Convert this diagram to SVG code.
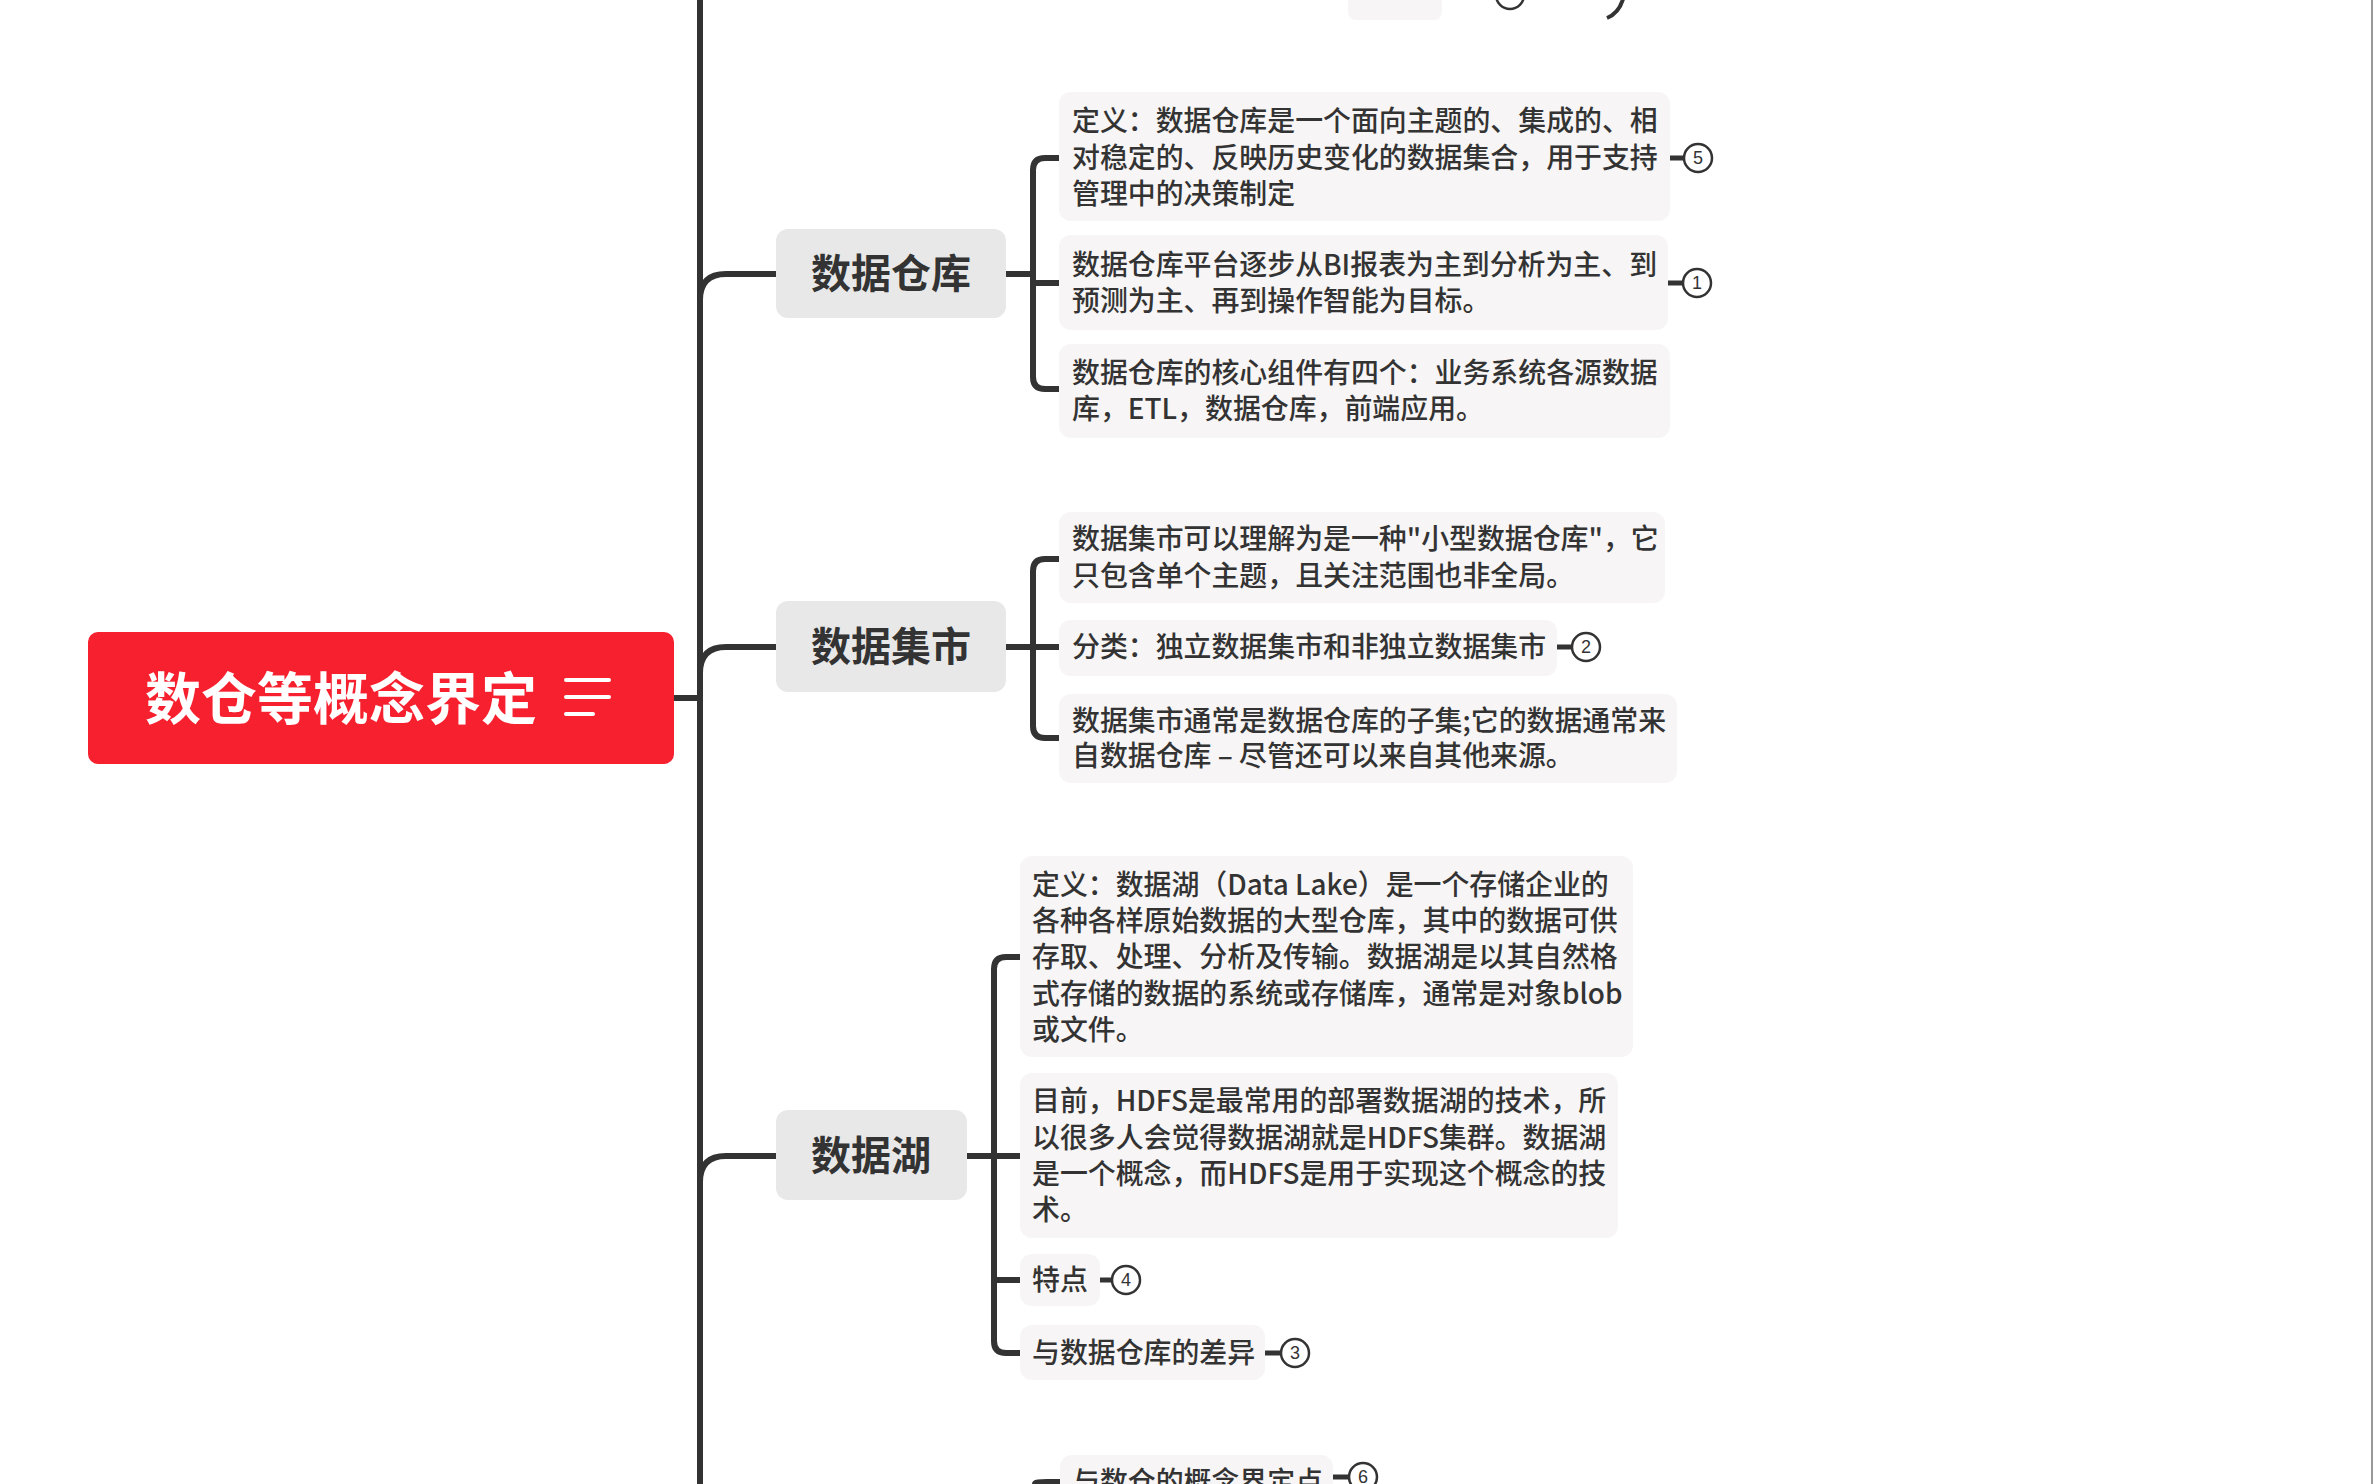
<svg xmlns="http://www.w3.org/2000/svg" width="2375" height="1484" viewBox="0 0 2375 1484">
<style>
.ln{fill:none;stroke:#333;stroke-width:6;stroke-linecap:round;stroke-linejoin:round}
.sl{fill:none;stroke:#333;stroke-width:5}
.br{fill:#e8e8e8}
.bt{font-family:"Noto Sans CJK SC","Noto Sans",sans-serif;font-size:40px;font-weight:bold;fill:#333}
.cb{fill:#f7f5f5}
.ct{font-family:"Noto Sans CJK SC","Noto Sans",sans-serif;font-size:27.9px;font-weight:500;fill:#333}
.nc{fill:#fff;stroke:#333;stroke-width:2.5}
.nt{font-family:"Liberation Sans",sans-serif;font-size:18px;fill:#333;text-anchor:middle}
</style>
<rect width="2375" height="1484" fill="#fff"/>
<line x1="2372" y1="0" x2="2372" y2="1484" stroke="#999" stroke-width="2"/>
<g id="connectors">
<line class="ln" x1="700" y1="0" x2="700" y2="1484"/>
<path class="ln" d="M674 698H700"/>
<path class="ln" d="M700 300Q700 274 726 274H776"/>
<path class="ln" d="M700 673Q700 647 726 647H776"/>
<path class="ln" d="M700 1182Q700 1156 726 1156H776"/>
<path class="ln" d="M1006 274H1033M1059 158H1045Q1033 158 1033 170V377Q1033 389 1045 389H1059M1033 283H1059"/>
<path class="ln" d="M1006 647H1033M1059 559H1045Q1033 559 1033 571V726Q1033 738 1045 738H1059M1033 647H1059"/>
<path class="ln" d="M967 1156H994M1020 957H1006Q994 957 994 969V1341Q994 1353 1006 1353H1020M994 1156H1020M994 1280H1020"/>
<path class="ln" d="M1035 1484Q1035 1482 1047 1482H1060"/>
<path class="sl" d="M1670 158H1684M1668 283H1683M1557 647H1572M1100 1280H1112M1265 1353H1281M1333 1477H1349"/>
<path fill="none" stroke="#333" stroke-width="4" d="M1625 -10Q1622 12 1607 18"/>
</g>
<g id="root">
<rect x="88" y="632" width="586" height="132" rx="10" fill="#f7202f"/>
<text x="145" y="719" font-family="Noto Sans CJK SC,sans-serif" font-size="56" font-weight="bold" fill="#fff">数仓等概念界定</text>
<path d="M566 680H609M566 697H609M566 714H593" stroke="#fff" stroke-width="4" stroke-linecap="round"/>
</g>
<g id="top-partial">
<rect x="1348" y="-20" width="94" height="40" rx="8" class="cb"/>
<circle cx="1510" cy="-5" r="14" class="nc"/>
</g>
<g id="n-warehouse">
<rect x="776" y="229" width="230" height="89" rx="12" class="br"/>
<text x="891" y="288" class="bt" text-anchor="middle">数据仓库</text>
</g>
<g id="w1"><rect x="1059" y="92" width="611" height="129" rx="12" class="cb"/>
<text class="ct"><tspan x="1072" y="131">定义：数据仓库是一个面向主题的、集成的、相</tspan><tspan x="1072" y="168">对稳定的、反映历史变化的数据集合，用于支持</tspan><tspan x="1072" y="204">管理中的决策制定</tspan></text>
<circle cx="1698" cy="158" r="14" class="nc"/><text x="1698" y="164" class="nt">5</text></g>
<g id="w2"><rect x="1059" y="235" width="609" height="95" rx="12" class="cb"/>
<text class="ct"><tspan x="1072" y="275">数据仓库平台逐步从BI报表为主到分析为主、到</tspan><tspan x="1072" y="311">预测为主、再到操作智能为目标。</tspan></text>
<circle cx="1697" cy="283" r="14" class="nc"/><text x="1697" y="289" class="nt">1</text></g>
<g id="w3"><rect x="1059" y="344" width="611" height="94" rx="12" class="cb"/>
<text class="ct"><tspan x="1072" y="383">数据仓库的核心组件有四个：业务系统各源数据</tspan><tspan x="1072" y="419">库，ETL，数据仓库，前端应用。</tspan></text></g>
<g id="n-mart">
<rect x="776" y="601" width="230" height="91" rx="12" class="br"/>
<text x="891" y="661" class="bt" text-anchor="middle">数据集市</text>
</g>
<g id="m1"><rect x="1059" y="512" width="606" height="91" rx="12" class="cb"/>
<text class="ct"><tspan x="1072" y="549">数据集市可以理解为是一种"小型数据仓库"，它</tspan><tspan x="1072" y="586">只包含单个主题，且关注范围也非全局。</tspan></text></g>
<g id="m2"><rect x="1059" y="620" width="498" height="56" rx="12" class="cb"/>
<text x="1072" y="657" class="ct">分类：独立数据集市和非独立数据集市</text>
<circle cx="1586" cy="647" r="14" class="nc"/><text x="1586" y="653" class="nt">2</text></g>
<g id="m3"><rect x="1059" y="694" width="618" height="89" rx="12" class="cb"/>
<text class="ct"><tspan x="1072" y="731">数据集市通常是数据仓库的子集;它的数据通常来</tspan><tspan x="1072" y="766">自数据仓库 – 尽管还可以来自其他来源。</tspan></text></g>
<g id="n-lake">
<rect x="776" y="1110" width="191" height="90" rx="12" class="br"/>
<text x="871" y="1170" class="bt" text-anchor="middle">数据湖</text>
</g>
<g id="l1"><rect x="1020" y="856" width="613" height="201" rx="12" class="cb"/>
<text class="ct"><tspan x="1032" y="895">定义：数据湖（Data Lake）是一个存储企业的</tspan><tspan x="1032" y="931">各种各样原始数据的大型仓库，其中的数据可供</tspan><tspan x="1032" y="967">存取、处理、分析及传输。数据湖是以其自然格</tspan><tspan x="1032" y="1004">式存储的数据的系统或存储库，通常是对象blob</tspan><tspan x="1032" y="1040">或文件。</tspan></text></g>
<g id="l2"><rect x="1020" y="1073" width="598" height="165" rx="12" class="cb"/>
<text class="ct"><tspan x="1032" y="1111">目前，HDFS是最常用的部署数据湖的技术，所</tspan><tspan x="1032" y="1148">以很多人会觉得数据湖就是HDFS集群。数据湖</tspan><tspan x="1032" y="1184">是一个概念，而HDFS是用于实现这个概念的技</tspan><tspan x="1032" y="1220">术。</tspan></text></g>
<g id="l3"><rect x="1020" y="1254" width="80" height="52" rx="12" class="cb"/>
<text x="1032" y="1290" class="ct">特点</text>
<circle cx="1126" cy="1280" r="14" class="nc"/><text x="1126" y="1286" class="nt">4</text></g>
<g id="l4"><rect x="1020" y="1325" width="245" height="55" rx="12" class="cb"/>
<text x="1032" y="1363" class="ct">与数据仓库的差异</text>
<circle cx="1295" cy="1353" r="14" class="nc"/><text x="1295" y="1359" class="nt">3</text></g>
<g id="b1"><rect x="1060" y="1455" width="273" height="50" rx="12" class="cb"/>
<text x="1072" y="1492" class="ct">与数仓的概念界定点</text>
<circle cx="1363" cy="1477" r="14" class="nc"/><text x="1363" y="1483" class="nt">6</text></g>
</svg>
